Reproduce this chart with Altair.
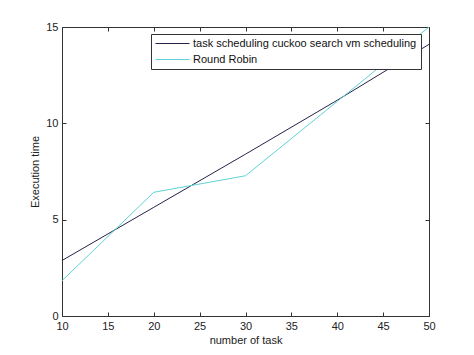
import altair as alt
import pandas as pd

tasks = [10, 20, 30, 40, 50]
cuckoo = [2.88, 5.64, 8.4, 11.2, 14.1]
round_robin = [1.83, 6.42, 7.28, 11.14, 15.0]
series_names = ["task scheduling cuckoo search vm scheduling", "Round Robin"]
series_colors = ["#24244a", "#5fd3d6"]
x_ticks = [10, 15, 20, 25, 30, 35, 40, 45, 50]
y_ticks = [0, 5, 10, 15]

rows = []
for name, vals in zip(series_names, [cuckoo, round_robin]):
    for t, v in zip(tasks, vals):
        rows.append({"tasks": t, "time": v, "series": name})
df = pd.DataFrame(rows)

W, H = 367, 289
FONT = "Liberation Sans"

xscale = alt.Scale(domain=[10, 50], nice=False, zero=False)
yscale = alt.Scale(domain=[0, 15], nice=False, zero=False)

main = alt.Chart(df).mark_line(strokeWidth=1).encode(
    x=alt.X("tasks:Q", scale=xscale, axis=alt.Axis(
        title="number of task", values=x_ticks, tickSize=0, domain=False, grid=False,
        labelFlush=False, labelPadding=4, titlePadding=3)),
    y=alt.Y("time:Q", scale=yscale, axis=alt.Axis(
        title="Execution time", values=y_ticks, tickSize=0, domain=False, grid=False,
        labelFlush=False, labelPadding=4, titlePadding=5)),
    color=alt.Color("series:N", sort=series_names,
                    scale=alt.Scale(domain=series_names, range=series_colors),
                    legend=alt.Legend(
                        title=None, orient="none", legendX=89, legendY=7,
                        symbolType="M-1,0H5.8", symbolSize=100, symbolStrokeWidth=1,
                        labelOffset=27, labelFont=FONT, labelFontSize=11, labelColor="#111",
                        labelLimit=0,
                        padding=4, rowPadding=4, strokeColor="#333", fillColor="white",
                        cornerRadius=0)),
)

def tick_layer(xorient, yorient):
    return alt.Chart(df).mark_line(opacity=0).encode(
        x=alt.X("tasks:Q", scale=xscale, axis=alt.Axis(
            orient=xorient, offset=-H, title=None, labels=False, values=x_ticks,
            tickSize=4, tickColor="#333", tickWidth=1, domain=False, grid=False)),
        y=alt.Y("time:Q", scale=yscale, axis=alt.Axis(
            orient=yorient, offset=-W, title=None, labels=False, values=y_ticks,
            tickSize=4, tickColor="#333", tickWidth=1, domain=False, grid=False)),
        detail="series:N",
    )

chart = alt.layer(main, tick_layer("top", "right"), tick_layer("bottom", "left")).resolve_axis(
    x="independent", y="independent"
).properties(
    width=W, height=H, autosize="none",
    padding={"left": 62, "top": 27, "right": 45, "bottom": 39},
    background="white",
).configure_view(
    stroke="#333", strokeWidth=1
).configure_axis(
    labelFont=FONT, labelFontSize=11, labelColor="#222",
    titleFont=FONT, titleFontSize=11, titleFontWeight="normal", titleColor="#222",
)

chart.save("out.html", embed_options={"renderer": "svg", "actions": False})
